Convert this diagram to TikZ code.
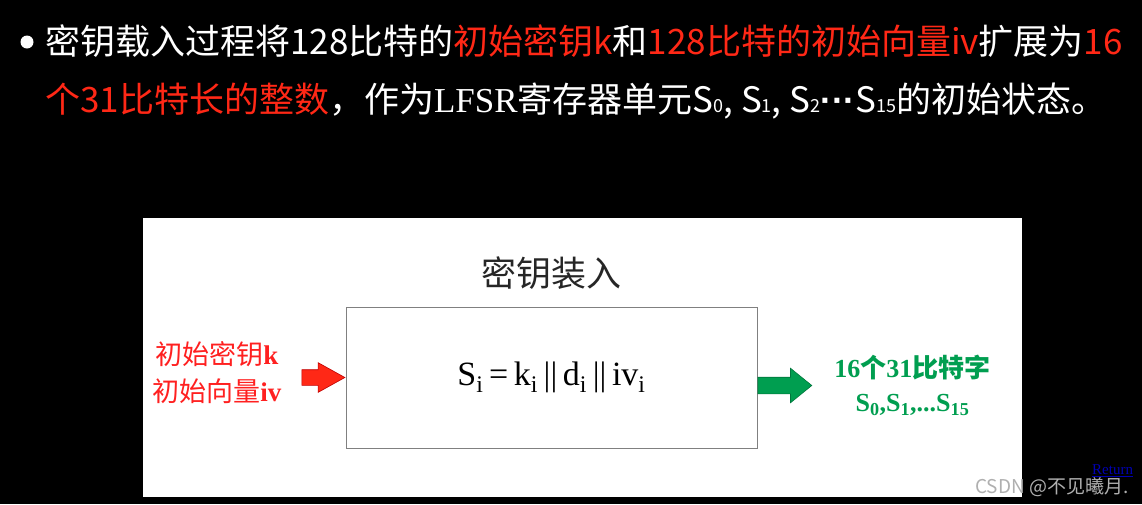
\documentclass[tikz,border=0pt]{standalone}
\usepackage{fontspec}
\setmainfont{Liberation Serif}
\newfontfamily\cjk{Noto Sans CJK SC}
\newfontfamily\latinsans{Liberation Sans}
\usetikzlibrary{positioning,shapes.arrows}
\definecolor{hired}{RGB}{255,40,22}
\definecolor{txtred}{RGB}{255,32,32}
\definecolor{txtgreen}{RGB}{0,158,80}
\definecolor{boxgray}{RGB}{128,128,128}
\definecolor{wmgray}{RGB}{175,175,175}
\newcommand{\sidx}[1]{{\fontsize{18}{18}\selectfont#1}}
\tikzstyle{slide} = [anchor=base west, inner sep=0pt, text=white, font=\cjk\fontsize{35}{40}\selectfont]
\tikzstyle{title} = [inner sep=0pt, text=black!85, font=\cjk\fontsize{35}{40}\selectfont]
\tikzstyle{stage} = [rectangle, draw=boxgray, line width=1pt, fill=white, minimum width=411pt, minimum height=141pt, font=\fontsize{34}{40}\selectfont]
\tikzstyle{redarrow} = [single arrow, draw=red!75!black, line width=0.6pt, fill=hired, inner xsep=0pt, inner ysep=7.5pt, minimum height=43pt, single arrow head extend=7pt, single arrow tip angle=58]
\tikzstyle{greenarrow} = [single arrow, draw=txtgreen!75!black, line width=0.6pt, fill=txtgreen, inner xsep=0pt, inner ysep=8pt, minimum height=54pt, single arrow head extend=9pt, single arrow tip angle=78]
\tikzstyle{intext} = [inner sep=0pt, align=center, text=txtred, font=\fontsize{27}{37}\selectfont]
\tikzstyle{outtext} = [inner sep=0pt, align=center, text=txtgreen, font=\bfseries\fontsize{26}{34}\selectfont]

\begin{document}
\begin{tikzpicture}[x=1pt, y=-1pt]

% slide =============================
\fill[black] (0,0) rectangle (1142,504);
\fill[white] (27,42) circle (6.5);
\node[slide] (line1) at (45,54) {密钥载入过程将128比特的\textcolor{hired}{初始密钥k}和\textcolor{hired}{128比特的初始向量iv}扩展为\textcolor{hired}{16}};
\node[slide] (line2) at (45,112) {\textcolor{hired}{个31比特长的整数}，作为{\rmfamily LFSR}寄存器单元S\sidx{0}, S\sidx{1}, S\sidx{2}{\latinsans\bfseries ···}S\sidx{15}的初始状态。};

% picture =============================
\fill[white] (143,218) rectangle (1022,497);
\node[stage] (inbox) at (551.5,377.5) {S\textsubscript{i}\,=\,k\textsubscript{i}\,||\,d\textsubscript{i}\,||\,iv\textsubscript{i}};
\node[title, above=17pt of inbox] (ttl) {密钥装入};

\node[redarrow, left=0pt of inbox] (inarrow) {};
\node[greenarrow, right=0pt of inbox, yshift=-8pt] (outarrow) {};

\node[intext, left=20pt of inarrow, yshift=5pt] (keyin) {{\cjk 初始密钥}\textbf{k}\\{\cjk 初始向量}\textbf{iv}};
\node[outtext, right=22pt of outarrow] (words) {16{\cjk 个}31{\cjk 比特字}\\S\textsubscript{0},S\textsubscript{1},...S\textsubscript{15}};

% watermark
\node[inner sep=0pt, anchor=west, text=blue!70!black, font=\fontsize{15}{16}\selectfont] (ret) at (1092,471) {\underline{Return}};
\node[inner sep=0pt, anchor=west, text=wmgray, font=\cjk\fontsize{19}{20}\selectfont] (mark) at (975,487) {CSDN @不见曦月.};

\end{tikzpicture}
\end{document}
